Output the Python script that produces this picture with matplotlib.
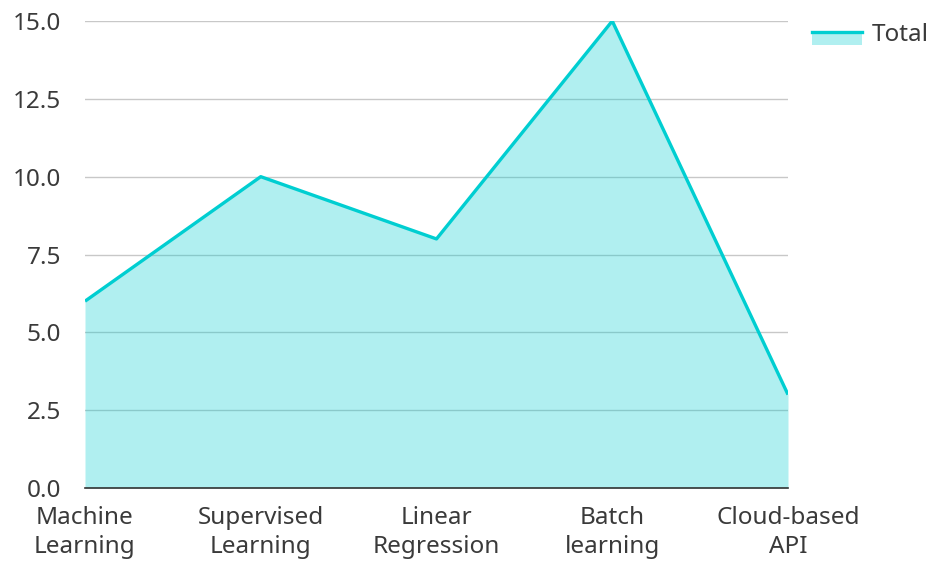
import matplotlib
matplotlib.use("Agg")
import matplotlib.pyplot as plt
import matplotlib.patches as mpatches
from matplotlib.legend_handler import HandlerBase
from matplotlib.lines import Line2D

plt.rcParams["font.family"] = ["Noto Sans", "DejaVu Sans"]

# ── 資料 ──────────────────────────────────────────────
CATEGORIES = ["Machine\nLearning", "Supervised\nLearning", "Linear\nRegression",
              "Batch\nlearning", "Cloud-based\nAPI"]
TOTAL = [6, 10, 8, 15, 3]
Y_TICKS = [0.0, 2.5, 5.0, 7.5, 10.0, 12.5, 15.0]

LINE_COLOR = "#00CED1"
FILL_ALPHA = 0.31
TEXT_COLOR = "#3a3a3a"
FS = 17.5


class AreaHandler(HandlerBase):
    # 圖例：上方實線 + 下方淺色填色
    def create_artists(self, legend, orig, xd, yd, w, h, fs, trans):
        x0, y0 = -xd, -yd
        mid = y0 + 0.5 * h
        rect = mpatches.Rectangle((x0, mid - 9), w, 9, color=LINE_COLOR,
                                  alpha=FILL_ALPHA, lw=0, transform=trans)
        line = Line2D([x0, x0 + w], [mid, mid], color=LINE_COLOR,
                      lw=2.4, transform=trans)
        return [rect, line]


fig = plt.figure(figsize=(9.28, 5.62), dpi=100)
ax = fig.add_axes([85 / 928, 1 - 488 / 562, (788 - 85) / 928, (488 - 21) / 562])

x = list(range(len(CATEGORIES)))
ax.fill_between(x, TOTAL, 0, color=LINE_COLOR, alpha=FILL_ALPHA, lw=0, zorder=2)
ax.plot(x, TOTAL, color=LINE_COLOR, lw=2.4, zorder=3, solid_capstyle="butt")

ax.set_xlim(0, len(CATEGORIES) - 1)
ax.set_ylim(0, 15)
ax.set_yticks(Y_TICKS)
ax.set_yticklabels([f"{v:.1f}" for v in Y_TICKS])
ax.set_xticks(x)
ax.set_xticklabels(CATEGORIES, linespacing=1.28)

ax.grid(axis="y", color="#c8c8c8", lw=1, zorder=1)
for s in ["top", "right", "left"]:
    ax.spines[s].set_visible(False)
ax.spines["bottom"].set_color("#333333")
ax.spines["bottom"].set_linewidth(1.2)
ax.spines["bottom"].set_zorder(4)
ax.tick_params(axis="both", length=0, labelsize=FS, colors=TEXT_COLOR)
ax.tick_params(axis="y", pad=17)
ax.tick_params(axis="x", pad=13)

fig.legend([object()], ["Total"], handler_map={object: AreaHandler()},
           loc="upper left", bbox_to_anchor=(812 / 928, 1 - 23 / 562),
           frameon=False, fontsize=FS, handlelength=2.05, handletextpad=0.42,
           borderpad=0, borderaxespad=0, labelcolor=TEXT_COLOR)

plt.savefig("out.png", dpi=100)
plt.close()
